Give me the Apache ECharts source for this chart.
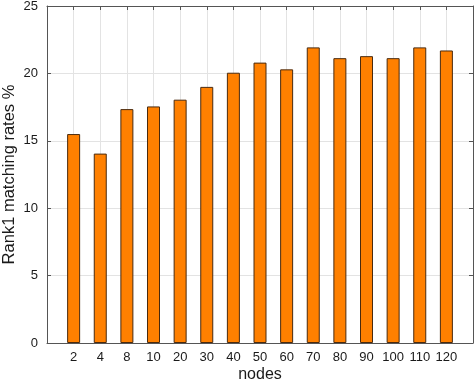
<!DOCTYPE html>
<html>
<head>
<meta charset="utf-8">
<script src="https://cdn.jsdelivr.net/npm/echarts@6/dist/echarts.min.js"></script>
<style>html,body{margin:0;padding:0;background:#fff}#c{width:474px;height:380px}</style>
</head>
<body>
<div id="c"></div>
<script>
var categories = ['2','4','8','10','20','30','40','50','60','70','80','90','100','110','120'];
var values = [15.5, 14.05, 17.35, 17.55, 18.05, 19.0, 20.05, 20.8, 20.3, 21.93, 21.13, 21.28, 21.13, 21.93, 21.7];
var yTicks = [0, 5, 10, 15, 20, 25];

var axisColor = '#555555';
var gridColor = '#e3e3e3';
var font = 'Liberation Sans, Arial, sans-serif';

var chart = echarts.init(document.getElementById('c'), null, {renderer: 'canvas'});
var barData = values.map(function (v, i) { return [i + 1, v]; });

chart.setOption({
  animation: false,
  backgroundColor: '#ffffff',
  grid: {left: 47, right: 1, top: 6, bottom: 37, containLabel: false, outerBoundsMode: 'none'},
  xAxis: [{
    type: 'value', min: 0, max: categories.length + 1, interval: 1,
    position: 'bottom',
    name: 'nodes', nameLocation: 'middle', nameGap: 24, nameMoveOverlap: false,
    nameTextStyle: {fontSize: 16, color: '#1a1a1a', fontFamily: font},
    axisLine: {show: true, onZero: false, lineStyle: {color: axisColor, width: 1}},
    axisTick: {show: true, inside: true, length: 4, lineStyle: {color: axisColor}},
    axisLabel: {
      fontSize: 13, color: '#1a1a1a', fontFamily: font, margin: 8,
      formatter: function (v) { return categories[v - 1] || ''; }
    },
    splitLine: {show: true, lineStyle: {color: gridColor, width: 1}}
  }, {
    type: 'value', min: 0, max: categories.length + 1, interval: 1,
    position: 'top',
    axisLine: {show: true, onZero: false, lineStyle: {color: axisColor, width: 1}},
    axisTick: {show: true, inside: true, length: 4, lineStyle: {color: axisColor}},
    axisLabel: {show: false},
    splitLine: {show: false}
  }],
  yAxis: [{
    type: 'value', min: yTicks[0], max: yTicks[yTicks.length - 1], interval: 5,
    position: 'left',
    name: 'Rank1 matching rates %', nameLocation: 'middle', nameGap: 29, nameMoveOverlap: false,
    nameTextStyle: {fontSize: 16.5, color: '#1a1a1a', fontFamily: font},
    axisLine: {show: true, onZero: false, lineStyle: {color: axisColor, width: 1}},
    axisTick: {show: true, inside: true, length: 4, lineStyle: {color: axisColor}},
    axisLabel: {fontSize: 13, color: '#1a1a1a', fontFamily: font, margin: 9},
    splitLine: {show: true, lineStyle: {color: gridColor, width: 1}}
  }, {
    type: 'value', min: yTicks[0], max: yTicks[yTicks.length - 1], interval: 5,
    position: 'right',
    axisLine: {show: true, onZero: false, lineStyle: {color: axisColor, width: 1}},
    axisTick: {show: true, inside: true, length: 4, lineStyle: {color: axisColor}},
    axisLabel: {show: false},
    splitLine: {show: false}
  }],
  series: [{
    type: 'bar',
    xAxisIndex: 0, yAxisIndex: 0,
    data: barData,
    barWidth: 13,
    itemStyle: {color: '#ff8000', borderColor: '#4a2a0e', borderWidth: 1}
  }]
});
</script>
</body>
</html>
